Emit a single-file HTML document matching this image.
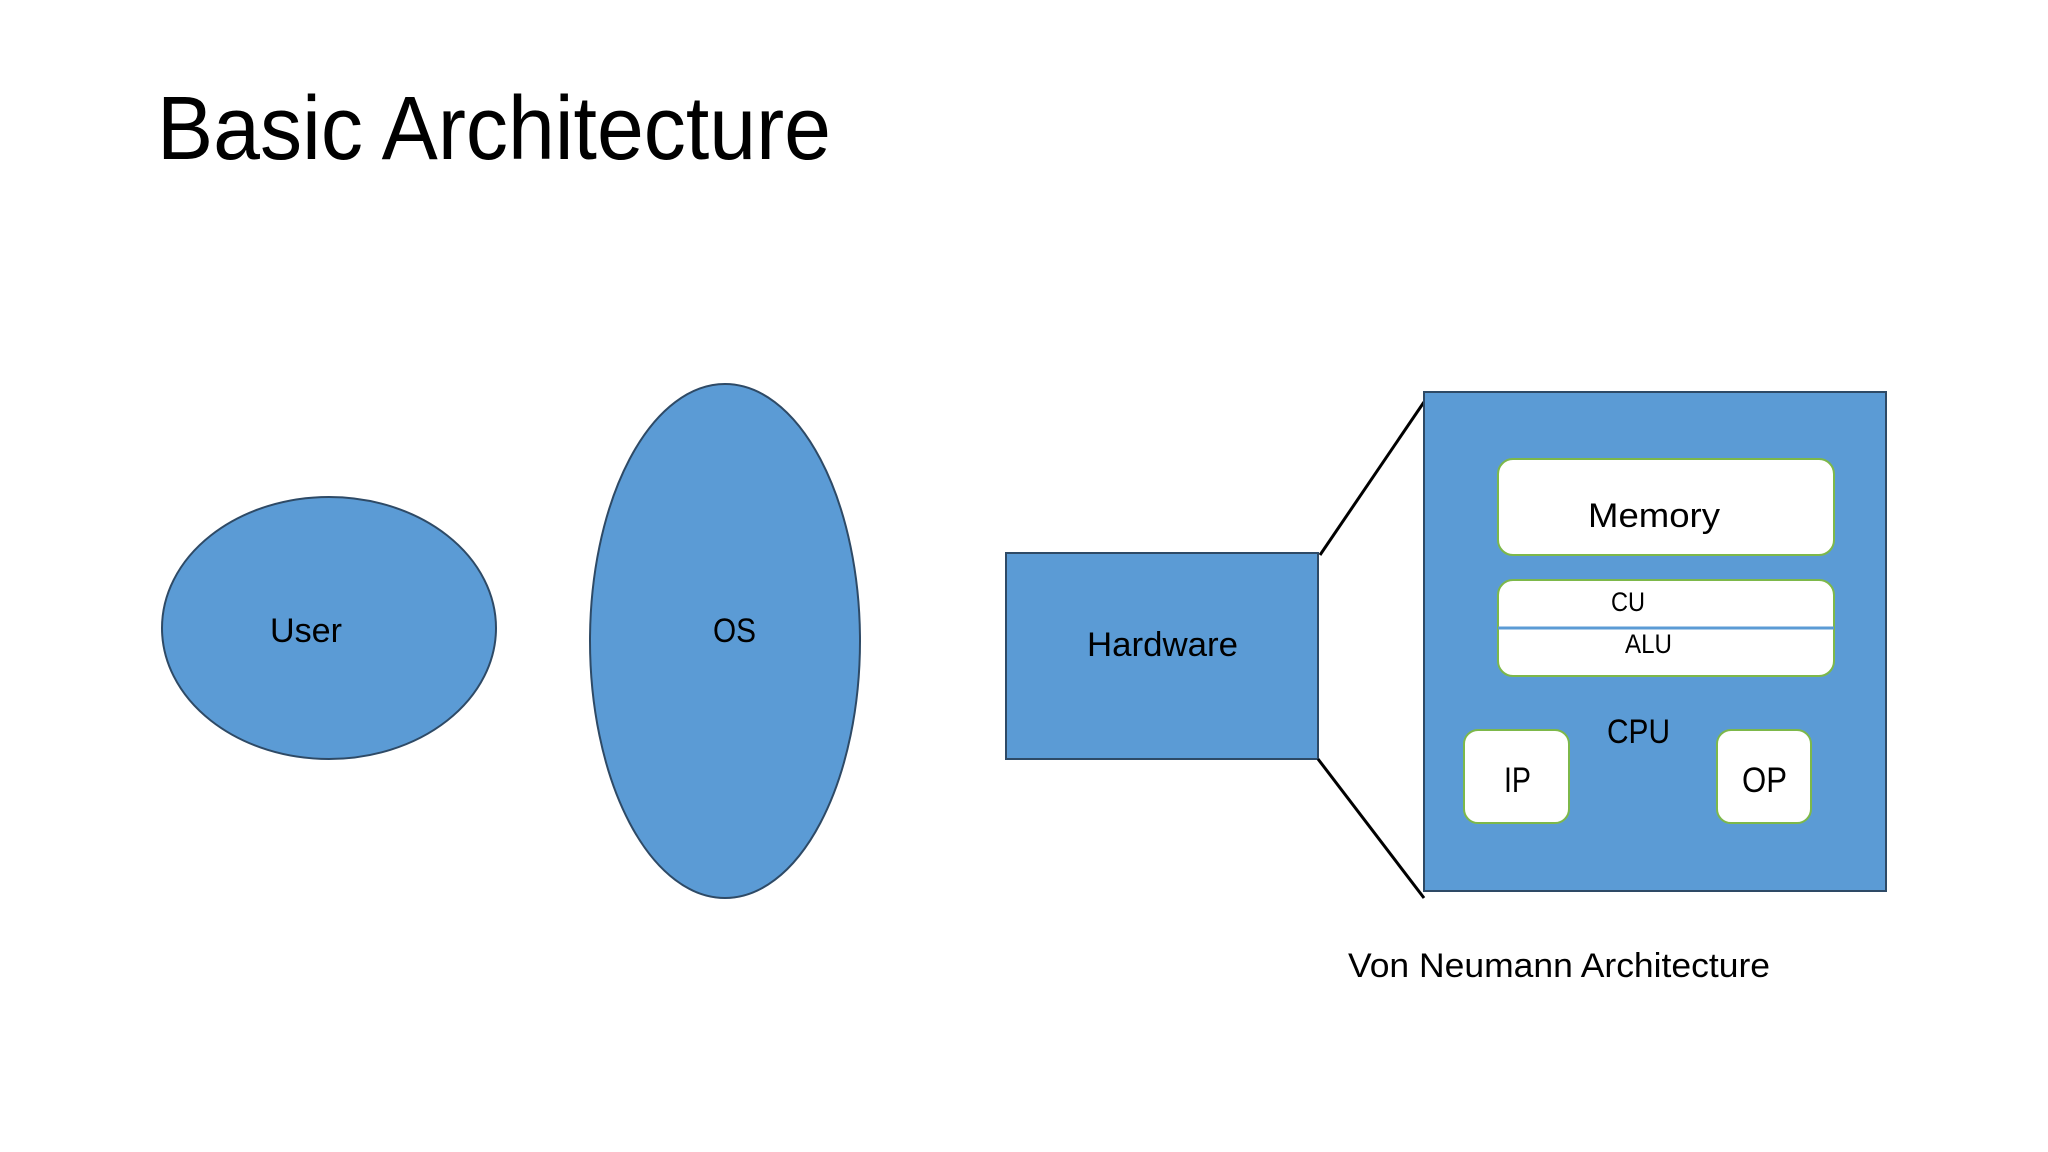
<!DOCTYPE html>
<html><head><meta charset="utf-8"><style>
html,body{margin:0;padding:0;background:#fff;}
svg{display:block;}
text{font-family:"Liberation Sans",sans-serif;fill:#000;}
</style></head><body>
<svg width="2048" height="1152" viewBox="0 0 2048 1152" xmlns="http://www.w3.org/2000/svg">
<rect width="2048" height="1152" fill="#fff"/>
<text x="157" y="159" font-size="90" textLength="674" lengthAdjust="spacingAndGlyphs">Basic Architecture</text>

<ellipse cx="329" cy="628" rx="167" ry="131" fill="#5B9BD5" stroke="#2E4A66" stroke-width="2"/>
<text x="270" y="642" font-size="34" textLength="72" lengthAdjust="spacingAndGlyphs">User</text>

<ellipse cx="725" cy="641" rx="135" ry="257" fill="#5B9BD5" stroke="#2E4A66" stroke-width="2"/>
<text x="713" y="642" font-size="34" textLength="43" lengthAdjust="spacingAndGlyphs">OS</text>

<rect x="1006" y="553" width="312" height="206" fill="#5B9BD5" stroke="#2E4A66" stroke-width="2"/>
<text x="1087" y="656" font-size="34" textLength="151" lengthAdjust="spacingAndGlyphs">Hardware</text>

<line x1="1320" y1="555" x2="1424" y2="402" stroke="#000" stroke-width="3"/>
<line x1="1318" y1="759" x2="1424" y2="898" stroke="#000" stroke-width="3"/>

<rect x="1424" y="392" width="462" height="499" fill="#5B9BD5" stroke="#2E4A66" stroke-width="2"/>

<rect x="1498" y="459" width="336" height="96" rx="15" fill="#fff" stroke="#7DB84A" stroke-width="2"/>
<text x="1588" y="527" font-size="34" textLength="132" lengthAdjust="spacingAndGlyphs">Memory</text>

<rect x="1498" y="580" width="336" height="96" rx="15" fill="#fff" stroke="#7DB84A" stroke-width="2"/>
<line x1="1498" y1="628" x2="1834" y2="628" stroke="#5B9BD5" stroke-width="3"/>
<text x="1611" y="611" font-size="27" textLength="34" lengthAdjust="spacingAndGlyphs">CU</text>
<text x="1625" y="653" font-size="27" textLength="47" lengthAdjust="spacingAndGlyphs">ALU</text>

<text x="1607" y="743" font-size="34" textLength="63" lengthAdjust="spacingAndGlyphs">CPU</text>

<rect x="1464" y="730" width="105" height="93" rx="14" fill="#fff" stroke="#7DB84A" stroke-width="2"/>
<text x="1504" y="792" font-size="35" textLength="27" lengthAdjust="spacingAndGlyphs">IP</text>

<rect x="1717" y="730" width="94" height="93" rx="14" fill="#fff" stroke="#7DB84A" stroke-width="2"/>
<text x="1742" y="792" font-size="35" textLength="45" lengthAdjust="spacingAndGlyphs">OP</text>

<text x="1348" y="977" font-size="34" textLength="422" lengthAdjust="spacingAndGlyphs">Von Neumann Architecture</text>
</svg>
</body></html>
